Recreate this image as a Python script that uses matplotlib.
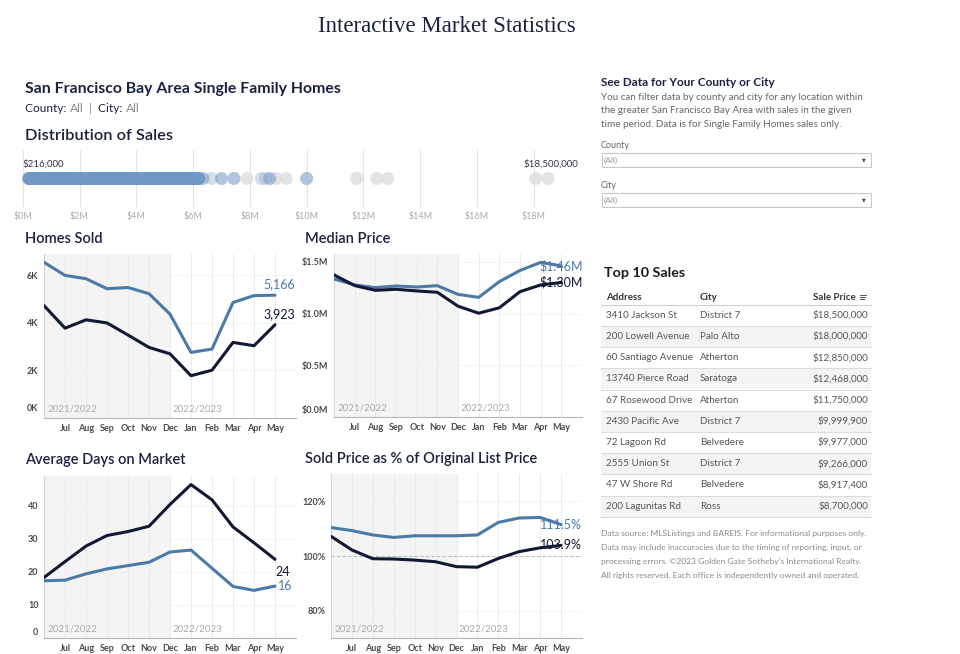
import matplotlib
matplotlib.use("Agg")
import matplotlib.pyplot as plt
from matplotlib.patches import Rectangle
import numpy as np

# ---------------- data ----------------
months = ["Jun", "Jul", "Aug", "Sep", "Oct", "Nov", "Dec", "Jan", "Feb", "Mar", "Apr", "May"]
period_labels = ["2021/2022", "2022/2023"]

homes_sold_prior = [6550, 6000, 5860, 5440, 5490, 5230, 4370, 2760, 2900, 4860, 5150, 5166]
homes_sold_current = [4730, 3780, 4130, 4000, 3490, 2970, 2700, 1780, 2010, 3180, 3040, 3923]

median_price_prior = [1.334e6, 1.276e6, 1.250e6, 1.266e6, 1.256e6, 1.269e6, 1.185e6, 1.156e6, 1.308e6, 1.416e6, 1.494e6, 1.46e6]
median_price_current = [1.373e6, 1.270e6, 1.224e6, 1.234e6, 1.218e6, 1.205e6, 1.071e6, 1.003e6, 1.055e6, 1.211e6, 1.276e6, 1.30e6]

days_prior = [17.3, 17.5, 19.4, 20.9, 21.9, 22.9, 26.0, 26.6, 21.1, 15.6, 14.4, 15.7]
days_current = [18.3, 23.1, 27.8, 31.0, 32.2, 33.8, 40.4, 46.4, 41.8, 33.6, 28.8, 23.8]

pct_list_prior = [110.4, 109.3, 107.7, 106.8, 107.4, 107.4, 107.4, 107.7, 112.3, 113.9, 114.1, 111.5]
pct_list_current = [107.2, 102.2, 99.0, 98.9, 98.5, 97.9, 96.1, 95.9, 99.1, 101.6, 103.0, 103.9]

# Distribution of sales (price in $M)
sales_dense = [0.216, 0.3, 0.4, 0.5, 0.6, 0.7, 0.8, 0.9, 1.0, 1.1, 1.2, 1.3, 1.4, 1.5, 1.6,
               1.7, 1.8, 1.9, 2.0, 2.1, 2.2, 2.3, 2.4, 2.5, 2.6, 2.7, 2.8, 2.9, 3.0, 3.1,
               3.2, 3.3, 3.4, 3.5, 3.6, 3.7, 3.8, 3.9, 4.0, 4.1, 4.2, 4.3, 4.4, 4.5, 4.6,
               4.7, 4.8, 4.9, 5.0, 5.1, 5.2, 5.3, 5.4, 5.5, 5.6, 5.7, 5.8, 5.9, 6.0, 6.1, 6.2]
sales_tail_strong = [6.35, 7.0, 7.44, 8.7, 10.0]
sales_tail_faint = [6.65, 8.4, 8.55]
sales_gray = [7.9, 8.92, 9.27, 11.76, 12.47, 12.85, 18.06, 18.5]
dist_ticks = [0, 2, 4, 6, 8, 10, 12, 14, 16, 18]

top_address = ["3410 Jackson St", "200 Lowell Avenue", "60 Santiago Avenue", "13740 Pierce Road",
               "67 Rosewood Drive", "2430 Pacific Ave", "72 Lagoon Rd", "2555 Union St",
               "47 W Shore Rd", "200 Lagunitas Rd"]
top_city = ["District 7", "Palo Alto", "Atherton", "Saratoga", "Atherton", "District 7",
            "Belvedere", "District 7", "Belvedere", "Ross"]
top_price = [18500000, 18000000, 12850000, 12468000, 11750000, 9999900, 9977000, 9266000,
             8917400, 8700000]

# ---------------- style ----------------
W, H = 960, 654
FONT = "Lato"
NAVY = "#1b2140"
LIGHT = "#4b79a8"
DARK = "#111833"

plt.rcParams["font.family"] = [FONT, "DejaVu Sans"]

fig = plt.figure(figsize=(W / 100, H / 100), dpi=100)
fig.patch.set_facecolor("white")

bg = fig.add_axes([0, 0, 1, 1])
bg.set_xlim(0, W)
bg.set_ylim(H, 0)
bg.axis("off")
bg.set_zorder(-1)


def ax_px(l, t, r, b):
    return fig.add_axes([l / W, 1 - b / H, (r - l) / W, (b - t) / H])


def T(x, y, s, **kw):
    kw.setdefault("va", "center")
    return bg.text(x, y, s, **kw)


# ---------------- headings ----------------
T(447, 27, "Interactive Market Statistics", ha="center", fontsize=16.5,
  family="Liberation Serif", color=NAVY)
T(25, 89, "San Francisco Bay Area Single Family Homes", fontsize=11.4, weight="bold", color=NAVY)

fig.canvas.draw()
renderer = fig.canvas.get_renderer()
x = 25
for s, c in [("County: ", NAVY), ("All", "#888888"), ("  |  ", "#999999"),
             ("City: ", NAVY), ("All", "#888888")]:
    t = T(x, 108, s, fontsize=8.6, color=c)
    bb = t.get_window_extent(renderer=renderer)
    x += bb.width

T(25, 136, "Distribution of Sales", fontsize=11.8, color=NAVY, weight="semibold")

# ---------------- distribution strip ----------------
axd = ax_px(14, 150, 580, 207)
axd.set_xlim((14 - 22.7) / 28.4, (580 - 22.7) / 28.4)
axd.set_ylim(-1, 1)
for v in dist_ticks:
    axd.axvline(v, color="#e3e3e3", lw=0.8, zorder=0)
axd.scatter(sales_gray, [0] * len(sales_gray), s=88, color="#dcdcdc", alpha=0.8,
            edgecolors="none", zorder=2)
axd.scatter(sales_tail_faint, [0] * len(sales_tail_faint), s=88, color="#9fb6d6", alpha=0.45,
            edgecolors="none", zorder=3)
axd.scatter(sales_tail_strong, [0] * len(sales_tail_strong), s=88, color="#7f9fc8", alpha=0.6,
            edgecolors="none", zorder=3)
axd.scatter(sales_dense, [0] * len(sales_dense), s=88, color="#7097c6", alpha=1.0,
            edgecolors="none", linewidths=0, zorder=4)
for sp in axd.spines.values():
    sp.set_visible(False)
axd.set_yticks([])
axd.set_xticks(dist_ticks)
axd.set_xticklabels([f"${v}M" for v in dist_ticks])
axd.tick_params(axis="x", length=0, pad=3.5, labelsize=6.5, labelcolor="#aaaaaa")
axd.set_facecolor("none")
T(22, 164, f"${sales_dense[0]*1e6:,.0f}", fontsize=7, color="#333344")
T(578, 164, f"${sales_gray[-1]*1e6:,.0f}", fontsize=7, color="#333344", ha="right")


# ---------------- line charts ----------------
def line_chart(box, prior, current, ylim, yticks, ylabels, title, title_xy,
               lab_prior, lab_cur, off_prior, off_cur, ha_prior="center", ha_cur="center",
               refline=None, raise_bottom=None):
    ax = ax_px(*box)
    xs = np.arange(len(months))
    ax.set_xlim(0, 12)
    ax.set_ylim(*ylim)
    ax.axvspan(0, 6, color="#f4f4f4", zorder=0, lw=0)
    for i in range(1, 12):
        ax.axvline(i, color="#e8e8e8", lw=0.6, zorder=0.5)
    for yv in yticks:
        ax.axhline(yv, color="#f0f0f0", lw=0.5, zorder=0.4)
    if refline is not None:
        ax.axhline(refline, color="#bdbdbd", lw=0.8, ls=(0, (3, 2)), zorder=1)
    ax.plot(xs, prior, color=LIGHT, lw=2.2, zorder=3, solid_capstyle="round")
    ax.plot(xs, current, color=DARK, lw=2.2, zorder=4, solid_capstyle="round")
    for sp in ["top", "right"]:
        ax.spines[sp].set_visible(False)
    ax.spines["left"].set_color("#d5d5d5")
    ax.spines["left"].set_linewidth(0.8)
    ax.spines["bottom"].set_color("#b5b5b5")
    ax.spines["bottom"].set_linewidth(0.8)
    ax.set_xticks(xs[1:])
    ax.set_xticklabels(months[1:])
    ax.set_yticks(yticks)
    shown = list(ylabels)
    if raise_bottom is not None:
        shown[0] = ""
        ax.annotate(ylabels[0], (0, yticks[0]), xycoords=("axes fraction", "data"),
                    xytext=(-4.3, raise_bottom), textcoords="offset points", ha="right",
                    va="center", fontsize=6.5, color="#4a4a4a", weight="bold")
    ax.set_yticklabels(shown)
    ax.tick_params(length=0, labelsize=6.5, labelcolor="#4a4a4a")
    ax.tick_params(axis="x", pad=4)
    ax.tick_params(axis="y", pad=4)
    for lab in ax.get_xticklabels() + ax.get_yticklabels():
        lab.set_fontweight("bold")
    ax.annotate(period_labels[0], (0, ylim[0]), xytext=(2.5, 3), textcoords="offset points",
                fontsize=7, color="#ababab", va="bottom", ha="left")
    ax.annotate(period_labels[1], (6, ylim[0]), xytext=(1.5, 3), textcoords="offset points",
                fontsize=7, color="#ababab", va="bottom", ha="left")
    ax.annotate(lab_prior, (11, prior[-1]), xytext=off_prior, textcoords="offset points",
                fontsize=9, color=LIGHT, ha=ha_prior, va="center", zorder=6)
    ax.annotate(lab_cur, (11, current[-1]), xytext=off_cur, textcoords="offset points",
                fontsize=9, color=DARK, ha=ha_cur, va="center", zorder=6)
    T(title_xy[0], title_xy[1], title, fontsize=10.5, color=NAVY, weight="semibold")
    return ax


line_chart((44, 254, 296, 418), homes_sold_prior, homes_sold_current, (0, 6900),
           [0, 2000, 4000, 6000], ["0K", "2K", "4K", "6K"], "Homes Sold", (25, 239),
           f"{homes_sold_prior[-1]:,}", f"{homes_sold_current[-1]:,}", (3, 8), (3, 7.5),
           raise_bottom=6.5)

line_chart((334, 254, 582, 417), median_price_prior, median_price_current, (0, 1.575e6),
           [0, 0.5e6, 1.0e6, 1.5e6], ["$0.0M", "$0.5M", "$1.0M", "$1.5M"], "Median Price",
           (305, 239), f"${median_price_prior[-1]/1e6:.2f}M",
           f"${median_price_current[-1]/1e6:.2f}M", (0, 0), (0, 0), raise_bottom=5)

line_chart((44, 476, 296, 638), days_prior, days_current, (0, 49),
           [0, 10, 20, 30, 40], ["0", "10", "20", "30", "40"], "Average Days on Market",
           (25, 460), f"{round(days_prior[-1])}", f"{round(days_current[-1])}",
           (2, 0), (0, -9), ha_prior="left", ha_cur="left", raise_bottom=4.3)

line_chart((331, 474, 582, 638), pct_list_prior, pct_list_current, (70, 130),
           [80, 100, 120], ["80%", "100%", "120%"], "Sold Price as % of Original List Price",
           (305, 459), f"{pct_list_prior[-1]:.1f}%", f"{pct_list_current[-1]:.1f}%",
           (0, 0), (0, 0), refline=100)

# ---------------- right panel: filters ----------------
T(601, 82.5, "See Data for Your County or City", fontsize=8.5, weight="bold", color=NAVY)
desc = ["You can filter data by county and city for any location within",
        "the greater San Francisco Bay Area with sales in the given",
        "time period. Data is for Single Family Homes sales only."]
for i, line in enumerate(desc):
    T(601, 97.3 + i * 13.6, line, fontsize=7.1, color="#666666")

for label, ylab, ytop in [("County", 145.3, 153.3), ("City", 186, 193.3)]:
    T(601, ylab, label, fontsize=6.5, color="#666666")
    bg.add_patch(Rectangle((601.5, ytop), 269.5, 13.4, facecolor="white",
                           edgecolor="#c8c8c8", lw=0.8))
    T(604, ytop + 6.7, "(All)", fontsize=6, color="#999999")
    T(864, ytop + 7, "▼", fontsize=3.5, color="#444444", ha="center")

# ---------------- right panel: top 10 table ----------------
T(604, 273, "Top 10 Sales", fontsize=10.3, weight="bold", color="#1a1a1a")
T(606, 297.7, "Address", fontsize=7, weight="bold", color="#333333")
T(700, 297.7, "City", fontsize=7, weight="bold", color="#333333")
T(856, 297.7, "Sale Price", fontsize=7, weight="bold", color="#333333", ha="right")
for k, ln in enumerate([5.5, 4.5, 3.3]):
    bg.plot([860, 860 + ln + 0.5], [294.5 + k * 2.4] * 2, color="#555555", lw=0.7)
row_h = 21.2
y0 = 315.3
bg.plot([601, 871], [y0 - row_h / 2] * 2, color="#cfcfcf", lw=0.8)
for i, (a, c, p) in enumerate(zip(top_address, top_city, top_price)):
    yc = y0 + i * row_h
    if i % 2 == 1:
        bg.add_patch(Rectangle((601, yc - row_h / 2), 270, row_h, facecolor="#f4f4f4",
                               edgecolor="none", zorder=0))
    bg.plot([601, 871], [yc + row_h / 2] * 2, color="#dcdcdc", lw=0.8, zorder=1)
    T(606, yc, a, fontsize=7.1, color="#555555")
    T(700, yc, c, fontsize=7.1, color="#555555")
    T(868, yc, f"${p:,.0f}", fontsize=7.1, color="#555555", ha="right")

footer = ["Data source: MLSListings and BAREIS. For informational purposes only.",
          "Data may include inaccuracies due to the timing of reporting, input, or",
          "processing errors. \u00a92023 Golden Gate Sotheby\u2019s International Realty.",
          "All rights reserved. Each office is independently owned and operated."]
for i, line in enumerate(footer):
    T(601, 533.3 + i * 14.2, line, fontsize=6.1, color="#8a8a8a")

fig.savefig("out.png", dpi=100, facecolor="white")
